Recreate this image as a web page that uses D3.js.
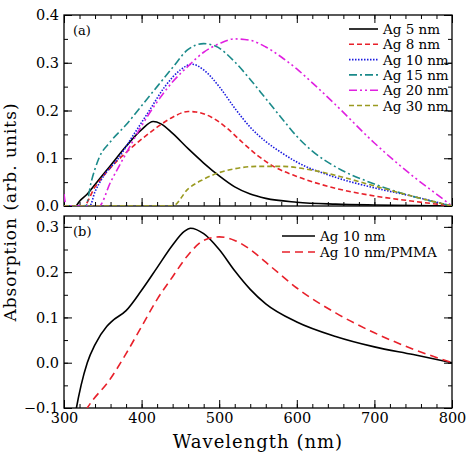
<!DOCTYPE html>
<html><head><meta charset="utf-8">
<script src="https://cdn.jsdelivr.net/npm/d3@7"></script>
<style>body{margin:0;background:#fff}text{font-family:"DejaVu Serif",serif}</style>
</head><body><svg id="c" width="474" height="459"></svg>
<script>
const xTicks=[300,400,500,600,700,800];
const yTicksA=[0.0,0.1,0.2,0.3,0.4];
const yTicksB=[-0.1,0.0,0.1,0.2,0.3];
const namesA=["Ag 5 nm","Ag 8 nm","Ag 10 nm","Ag 15 nm","Ag 20 nm","Ag 30 nm"];
const colorsA=["#000","#e8202a","#1a1adf","#1b8a8a","#e020e0","#9a9a20"];
const dashA=["","5,3","1.5,1.5","8,3,2,3","8,3,2,3,2,3","5,3"];
const ag5=[[300,0],[315,0],[320,0.01],[330,0.025],[340,0.045],[360,0.085],[380,0.125],[400,0.16],[415,0.177],[425,0.172],[440,0.152],[460,0.12],[480,0.09],[500,0.063],[520,0.04],[540,0.025],[560,0.016],[600,0.008],[650,0.004],[700,0.002],[800,0]];
const ag8=[[300,0],[325,0],[340,0.04],[360,0.08],[380,0.112],[400,0.14],[420,0.165],[440,0.186],[460,0.198],[470,0.197],[490,0.186],[510,0.163],[530,0.133],[550,0.105],[570,0.083],[600,0.062],[650,0.037],[700,0.021],[750,0.01],[800,0]];
const ag10=[[300,0],[333,0],[340,0.03],[350,0.06],[370,0.1],[390,0.15],[410,0.2],[430,0.25],[450,0.285],[465,0.297],[480,0.285],[500,0.25],[520,0.205],[540,0.165],[560,0.135],[580,0.112],[600,0.092],[650,0.06],[700,0.038],[750,0.02],[800,0]];
const ag15=[[300,0],[328,0],[335,0.05],[345,0.1],[360,0.135],[380,0.17],[400,0.21],[420,0.25],[440,0.29],[460,0.328],[480,0.34],[495,0.335],[520,0.302],[540,0.265],[560,0.225],[580,0.185],[600,0.146],[620,0.115],[650,0.082],[700,0.046],[750,0.02],[800,0]];
const ag20=[[300,0.025],[303,0],[345,0],[360,0.05],[380,0.11],[400,0.168],[420,0.218],[440,0.26],[460,0.293],[480,0.322],[500,0.34],[520,0.35],[540,0.347],[560,0.333],[580,0.312],[600,0.287],[620,0.258],[650,0.212],[700,0.132],[750,0.062],[780,0.025],[800,0]];
const ag30=[[300,0],[440,0],[460,0.036],[480,0.056],[500,0.07],[520,0.078],[550,0.083],[580,0.083],[620,0.075],[660,0.06],[700,0.042],[750,0.02],[800,0]];
const seriesA=[ag5,ag8,ag10,ag15,ag20,ag30];
const namesB=["Ag 10 nm","Ag 10 nm/PMMA"];
const agB=[[300,-0.3],[316,-0.1],[322,-0.05],[330,0.0],[340,0.04],[355,0.08],[362,0.092],[380,0.115],[400,0.16],[420,0.21],[440,0.26],[455,0.29],[463,0.297],[480,0.285],[500,0.25],[520,0.203],[540,0.162],[560,0.13],[600,0.09],[650,0.058],[700,0.035],[750,0.018],[800,0]];
const pmmaB=[[320,-0.13],[330,-0.1],[360,-0.035],[380,0.02],[400,0.08],[420,0.14],[440,0.19],[460,0.238],[480,0.27],[500,0.278],[520,0.27],[540,0.25],[560,0.222],[580,0.193],[600,0.165],[650,0.11],[700,0.066],[750,0.03],[800,0]];
const seriesB=[agB,pmmaB];

const svg=d3.select("#c");
const L=64,R=452;
const x=d3.scaleLinear().domain([300,800]).range([L,R]);
const yA=d3.scaleLinear().domain([0,0.4]).range([206,15]);
const yB=d3.scaleLinear().domain([-0.1,0.324]).range([408,216]);
const defs=svg.append("defs");
function panel(id,y,yt,series,colors,dashes,names,leg,tag,showX){
  const top=y.range()[1],bot=y.range()[0];
  defs.append("clipPath").attr("id",id).append("rect").attr("x",L).attr("y",top).attr("width",R-L).attr("height",bot-top);
  const g=svg.append("g");
  const xMin=d3.range(300,801,20);
  g.append("g").attr("transform",`translate(0,${bot})`).call(d3.axisBottom(x).tickValues(xMin).tickSize(-4).tickFormat(""));
  g.append("g").attr("transform",`translate(0,${bot})`).call(d3.axisBottom(x).tickValues(xTicks).tickSize(-8).tickFormat(showX?d3.format("d"):"" ).tickPadding(5));
  g.append("g").attr("transform",`translate(0,${top})`).call(d3.axisTop(x).tickValues(xMin).tickSize(-4).tickFormat(""));
  g.append("g").attr("transform",`translate(0,${top})`).call(d3.axisTop(x).tickValues(xTicks).tickSize(-8).tickFormat(""));
  const yMin=d3.range(Math.round(y.domain()[0]*20),Math.floor(y.domain()[1]*20)+1).map(v=>v/20);
  g.append("g").attr("transform",`translate(${L},0)`).call(d3.axisLeft(y).tickValues(yMin).tickSize(-4).tickFormat(""));
  g.append("g").attr("transform",`translate(${L},0)`).call(d3.axisLeft(y).tickValues(yt).tickSize(-8).tickFormat(d=>d<0?"\u2212"+Math.abs(d).toFixed(1):d.toFixed(1)).tickPadding(5));
  g.append("g").attr("transform",`translate(${R},0)`).call(d3.axisRight(y).tickValues(yMin).tickSize(-4).tickFormat(""));
  g.append("g").attr("transform",`translate(${R},0)`).call(d3.axisRight(y).tickValues(yt).tickSize(-8).tickFormat(""));
  g.selectAll(".domain").remove();
  g.selectAll("text").attr("font-size",14.5).attr("font-family","DejaVu Serif").attr("fill","#000");
  g.append("rect").attr("x",L).attr("y",top).attr("width",R-L).attr("height",bot-top).attr("fill","none").attr("stroke","#000").attr("stroke-width",1.3);
  const line=d3.line().x(d=>x(d[0])).y(d=>y(d[1])).curve(d3.curveMonotoneX);
  const pg=svg.append("g").attr("clip-path",`url(#${id})`);
  series.forEach((s,i)=>pg.append("path").attr("d",line(s)).attr("fill","none").attr("stroke",colors[i]).attr("stroke-width",1.6).attr("stroke-dasharray",dashes[i]));
  names.forEach((n,i)=>{
    const yy=leg.y+i*leg.dy;
    svg.append("line").attr("x1",leg.x1).attr("x2",leg.x2).attr("y1",yy).attr("y2",yy).attr("stroke",colors[i]).attr("stroke-width",1.6).attr("stroke-dasharray",dashes[i]);
    svg.append("text").attr("x",leg.x2+5).attr("y",yy+5).attr("font-size",13.5).text(n);
  });
  svg.append("text").attr("x",L+9).attr("y",top+20).attr("font-size",13).text(tag);
}
panel("ca",yA,yTicksA,seriesA,colorsA,dashA,namesA,{x1:349,x2:378,y:29,dy:15.3},"(a)",false);
panel("cb",yB,yTicksB,seriesB,["#000","#e8202a"],["","8,5"],namesB,{x1:282,x2:315,y:236,dy:16},"(b)",true);
svg.append("text").attr("transform","translate(16,212) rotate(-90)").attr("text-anchor","middle").attr("font-size",17).attr("letter-spacing",1).text("Absorption (arb. units)");
svg.append("text").attr("x",258).attr("y",448).attr("text-anchor","middle").attr("font-size",18).attr("letter-spacing",1).text("Wavelength (nm)");
</script></body></html>
